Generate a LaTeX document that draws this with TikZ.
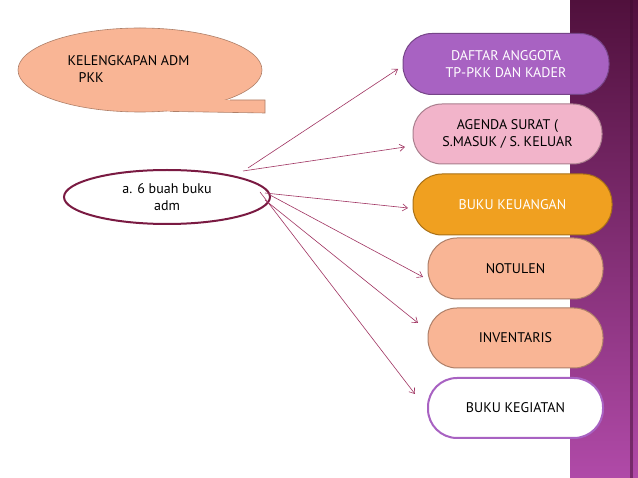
\documentclass[tikz,border=0pt]{standalone}
\usepackage{fontspec}
\setmainfont{PT Sans}
\usetikzlibrary{arrows.meta}
\begin{document}
\begin{tikzpicture}[x=1pt,y=-1pt,
 box/.style={rounded corners=29pt,draw=#1!70!black,line width=1pt},
 lbl/.style={font=\fontsize{14}{17.5}\selectfont,align=center},
 arr/.style={draw=arrc,line width=0.6pt,-{Straight Barb[length=5pt,width=7pt]}}]
\definecolor{arrc}{HTML}{A03462}
\definecolor{stripT}{HTML}{50103C}
\definecolor{stripB}{HTML}{B04AA8}
\definecolor{c1}{HTML}{A862C2}
\definecolor{c2}{HTML}{F2B4CA}
\definecolor{c3}{HTML}{F0A020}
\definecolor{c4}{HTML}{F9B595}
\definecolor{ovl}{HTML}{7A1A42}
\useasboundingbox (0,0) rectangle (638,478);
\fill[white] (0,0) rectangle (638,478);
\shade[top color=stripT,bottom color=stripB] (570,0) rectangle (638,478);
\fill[stripT!80!black,opacity=0.5] (630,0) rectangle (633,478);
% callout
\draw[c4!70!black,line width=0.6pt,fill=c4] (140,70) ellipse[x radius=122,y radius=42];
\fill[c4] (200,100) -- (265,100) -- (265,113) -- (165,111.2) -- cycle;
\draw[c4!70!black,line width=0.6pt] (230,100) -- (265,100) -- (265,113) -- (170,111.4);
\node[lbl,align=left,anchor=north west] (title) at (64,52) {KELENGKAPAN ADM\\\ \ \ PKK};
% oval
\draw[ovl,line width=2pt,fill=white] (167,197) ellipse[x radius=103,y radius=27];
\node[lbl] (src) at (167,197) {a. 6 buah buku\\adm};
% boxes
\node[box=c1,fill=c1,minimum width=206pt,minimum height=61pt,lbl,text=white] (b1) at (506,64) {DAFTAR ANGGOTA\\TP-PKK DAN KADER};
\node[box=c2,fill=c2,minimum width=189pt,minimum height=60pt,lbl] (b2) at (507.5,134) {AGENDA SURAT (\\S.MASUK / S. KELUAR};
\node[box=c3,fill=c3,minimum width=199pt,minimum height=61pt,lbl,text=white] (b3) at (512.5,204.5) {BUKU KEUANGAN};
\node[box=c4,fill=c4,minimum width=175pt,minimum height=61pt,lbl] (b4) at (515.5,268.5) {NOTULEN};
\node[box=c4,fill=c4,minimum width=175pt,minimum height=60pt,lbl] (b5) at (515.5,338) {INVENTARIS};
\node[box=c1,draw=c1,fill=white,minimum width=175pt,minimum height=60pt,lbl,line width=2pt] (b6) at (515.5,408) {BUKU KEGIATAN};
% connectors
\coordinate (s1) at (248,168); \coordinate (s2) at (243,171);
\coordinate (s3) at (265,193); \coordinate (s4) at (270,195);
\coordinate (s5) at (265,200); \coordinate (s6) at (260,192);
\coordinate (e1) at (398,69); \coordinate (e2) at (405,147);
\coordinate (e3) at (408,208); \coordinate (e4) at (423,277);
\coordinate (e5) at (418,323); \coordinate (e6) at (415,394);
\foreach \i in {1,...,6}{\draw[arr] (s\i) -- (e\i);}
\end{tikzpicture}
\end{document}
